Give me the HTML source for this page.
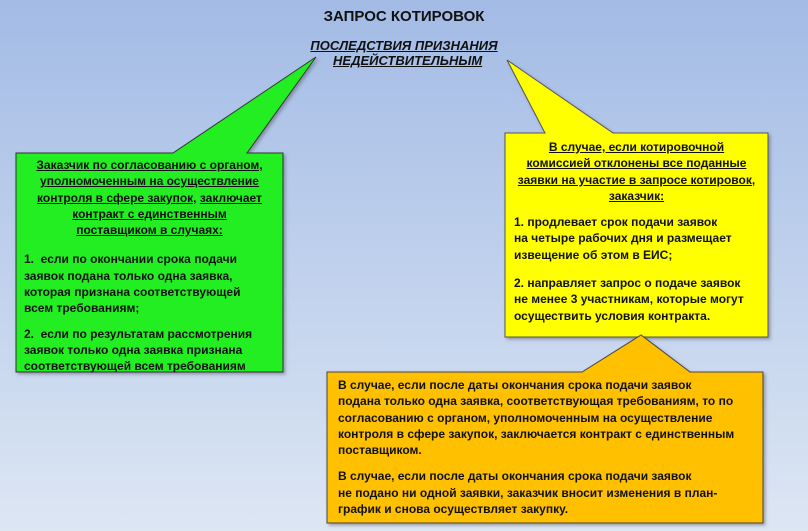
<!DOCTYPE html>
<html><head><meta charset="utf-8"><style>
body{margin:0;width:808px;height:531px;overflow:hidden;position:relative;font-family:"Liberation Sans",Arial,sans-serif;background:linear-gradient(#a3bbe5,#c5d5ee 60%,#dde6f3);}
svg{position:absolute;left:0;top:0}
.t{position:absolute;font-weight:bold;font-size:12px;line-height:16.3px;color:#111;white-space:nowrap}
.c{text-align:center}
u{text-decoration:underline}
</style></head><body>
<svg width="808" height="531">
<defs><filter id="s"><feDropShadow dx="2" dy="2" stdDeviation="1.5" flood-color="#556" flood-opacity="0.5"/></filter></defs>
<path d="M16,153 L173,153 L316,57 L247,153 L283,153 L283,372 L16,372 Z" fill="#22ee22" stroke="#333" stroke-width="1" filter="url(#s)"/>
<path d="M505,133 L545,133 L507,60 L613,133 L768,133 L768,337 L505,337 Z" fill="#ffff00" stroke="#555" stroke-width="1" filter="url(#s)"/>
<path d="M327,372 L582,372 L641,335 L690,372 L763,372 L763,523 L327,523 Z" fill="#ffc000" stroke="#444" stroke-width="1" filter="url(#s)"/>
</svg>
<div class="t c" style="left:0;width:808px;top:8px;font-size:15px;line-height:18px;font-family:'Liberation Sans Narrow','Liberation Sans',sans-serif">ЗАПРОС КОТИРОВОК</div>
<div class="t c" style="left:0;width:808px;top:38px;font-size:13px;line-height:15px;font-style:italic;font-family:'Liberation Sans Narrow','Liberation Sans',sans-serif"><u>ПОСЛЕДСТВИЯ ПРИЗНАНИЯ</u><br>&nbsp;&nbsp;<u>НЕДЕЙСТВИТЕЛЬНЫМ</u></div>
<div class="t" style="left:16px;width:267px;top:157px">
<div class="c"><u>Заказчик по согласованию с органом,</u><br><u>уполномоченным на осуществление</u><br><u>контроля в сфере закупок,</u> <u>заключает</u><br><u>контракт с единственным</u><br><u>поставщиком в случаях:</u></div>
<div style="padding-left:8px;margin-top:13px">1.&nbsp; если по окончании срока подачи<br>заявок подана только одна заявка,<br>которая признана соответствующей<br>всем требованиям;</div>
<div style="padding-left:8px;margin-top:9px">2.&nbsp; если по результатам рассмотрения<br>заявок только одна заявка признана<br>соответствующей всем требованиям</div></div>
<div class="t" style="left:505px;width:263px;top:139px">
<div class="c"><u>В случае, если котировочной</u><br><u>комиссией отклонены все поданные</u><br><u>заявки на участие в запросе котировок,</u><br><u>заказчик:</u></div>
<div style="padding-left:9px;margin-top:10px">1. продлевает срок подачи заявок<br>на четыре рабочих дня и размещает<br>извещение об этом в ЕИС;</div>
<div style="padding-left:9px;margin-top:12px">2. направляет запрос о подаче заявок<br>не менее 3 участникам, которые могут<br>осуществить условия контракта.</div></div>
<div class="t" style="left:338px;top:377px">В случае, если после даты окончания срока подачи заявок<br>подана только одна заявка, соответствующая требованиям, то по<br>согласованию с органом, уполномоченным на осуществление<br>контроля в сфере закупок, заключается контракт с единственным<br>поставщиком.
<div style="margin-top:10px">В случае, если после даты окончания срока подачи заявок<br>не подано ни одной заявки, заказчик вносит изменения в план-<br>график и снова осуществляет закупку.</div></div>
</body></html>
